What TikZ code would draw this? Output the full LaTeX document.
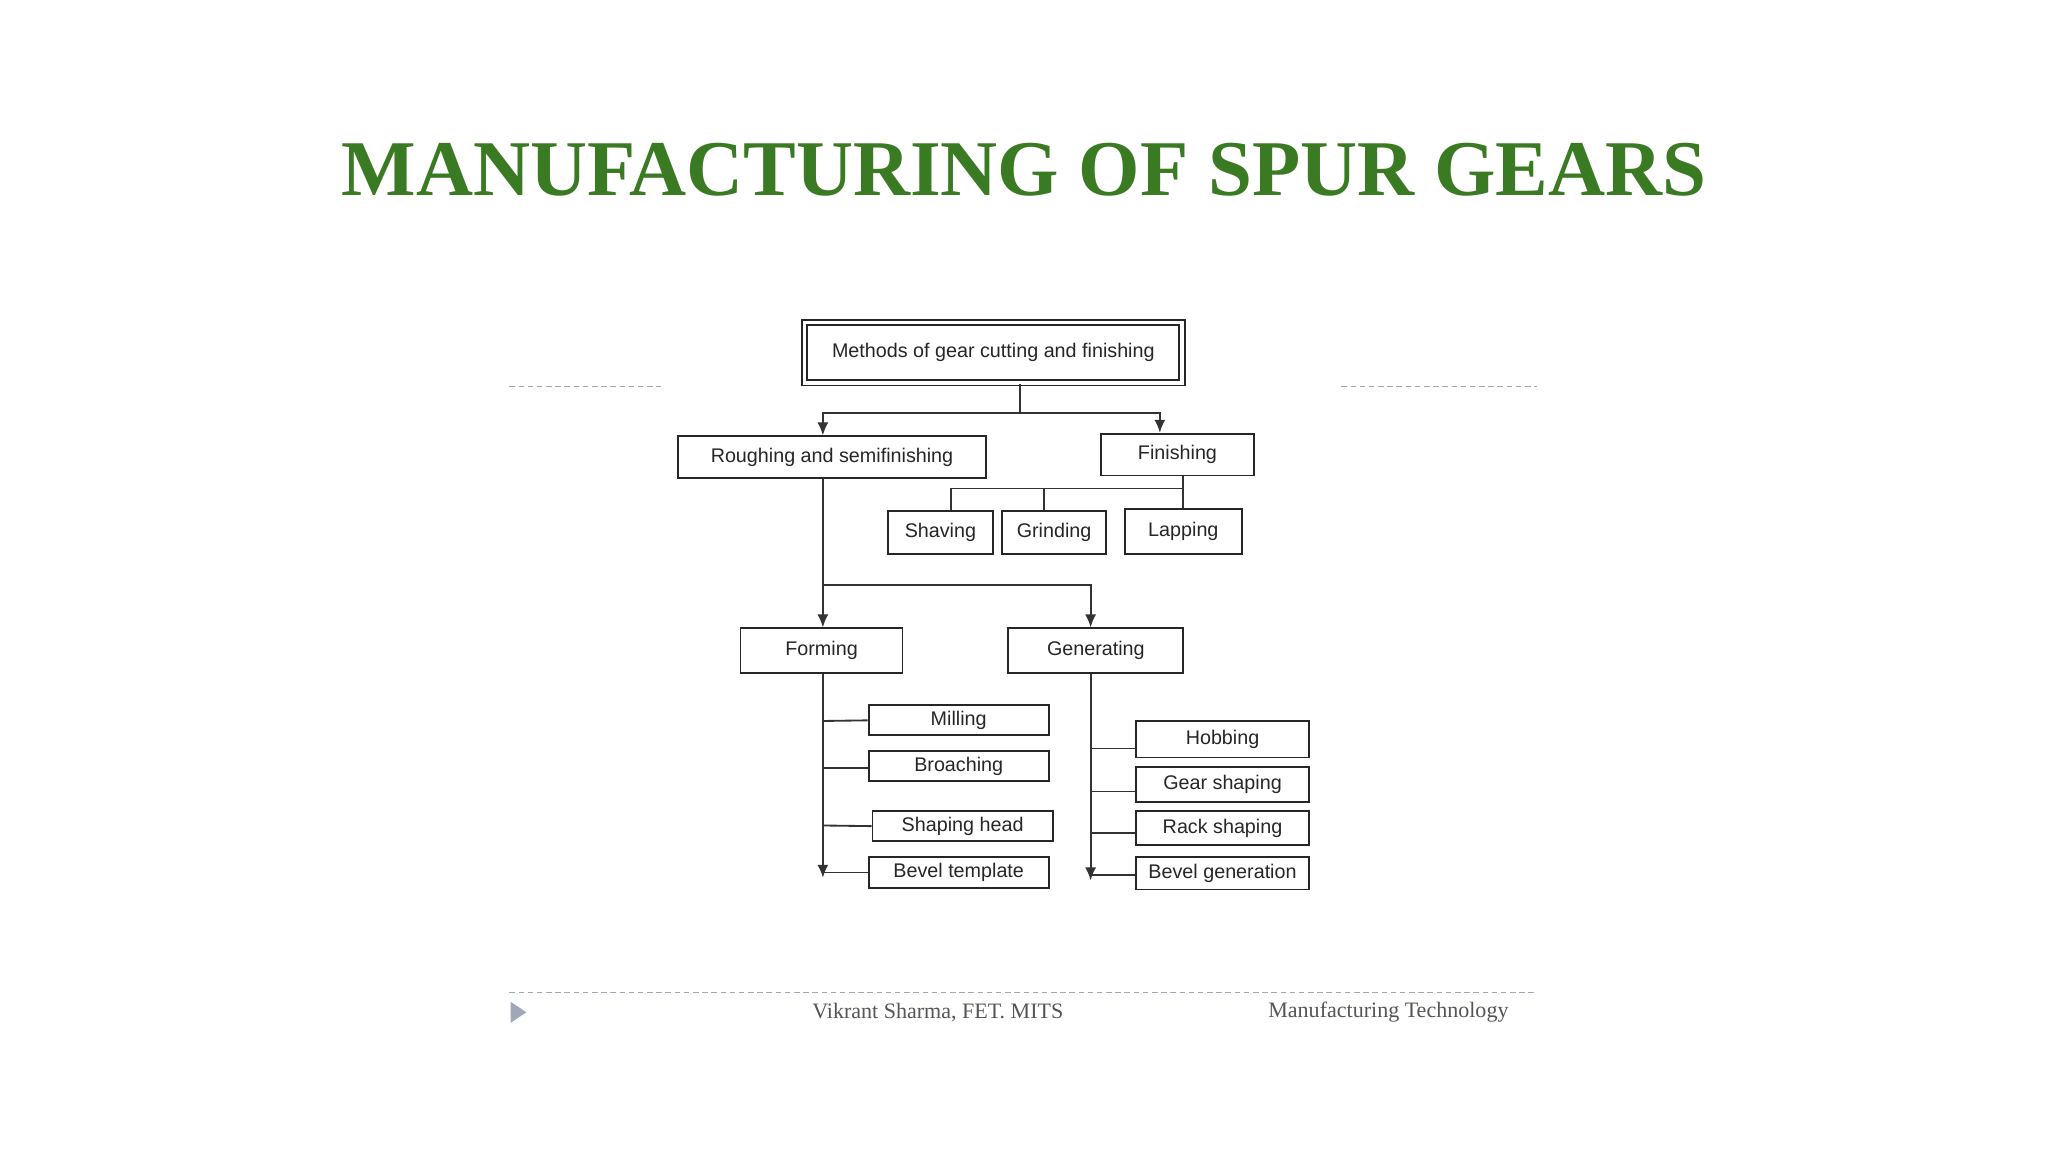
\documentclass[tikz,border=0pt]{standalone}
\usepackage{fontspec}
\setmainfont{Liberation Serif}
\setsansfont{Liberation Sans}
\usetikzlibrary{arrows.meta}
\definecolor{titlegreen}{HTML}{3A7A22}
\definecolor{dashgray}{HTML}{A0A8B8}
\definecolor{foot}{HTML}{555555}
\begin{document}
\begin{tikzpicture}[x=0.05cm,y=-0.05cm,
  bx/.style={draw=black!85,line width=2pt,inner sep=0pt,font=\sffamily\fontsize{21.5}{24}\selectfont,text=black!85},
  ln/.style={draw=black!80,line width=2pt},
  arr/.style={ln,-{Latex[length=14pt,width=12pt]}},
  dsh/.style={draw=dashgray,dash pattern=on 6pt off 4pt,line width=1.6pt}]
\useasboundingbox (0,0) rectangle (1568,882);
\fill[white] (0,0) rectangle (1568,882);
\node[font=\bfseries\fontsize{86}{90}\selectfont,text=titlegreen] (title) at (784,130) {MANUFACTURING OF SPUR GEARS};
\draw[dsh] (390,296) -- (506,296);
\draw[dsh] (1027,296) -- (1177,296);
\draw[dsh] (390,760) -- (1177,760);
\fill[dashgray] (391,767) -- (403,775) -- (391,783) -- cycle;
\node[font=\fontsize{24}{27}\selectfont,text=foot] (f1) at (718,775) {Vikrant Sharma, FET. MITS};
\node[font=\fontsize{24}{27}\selectfont,text=foot] (f2) at (1063,775) {Manufacturing Technology};
% boxes
\node[bx,double,double distance=4pt,minimum width=289*0.05cm,minimum height=46*0.05cm] (root) at (760.5,270) {Methods of gear cutting and finishing};
\node[bx,minimum width=236*0.05cm,minimum height=32*0.05cm] (rough) at (637,350) {Roughing and semifinishing};
\node[bx,minimum width=117*0.05cm,minimum height=32*0.05cm] (fin) at (901.5,348) {Finishing};
\node[bx,minimum width=80*0.05cm,minimum height=33*0.05cm] (shav) at (720,407.5) {Shaving};
\node[bx,minimum width=80*0.05cm,minimum height=33*0.05cm] (grind) at (807,407.5) {Grinding};
\node[bx,minimum width=90*0.05cm,minimum height=34*0.05cm] (lap) at (906,407) {Lapping};
\node[bx,minimum width=124*0.05cm,minimum height=34*0.05cm] (form) at (629,498) {Forming};
\node[bx,minimum width=134*0.05cm,minimum height=34*0.05cm] (gen) at (839,498) {Generating};
\node[bx,minimum width=138*0.05cm,minimum height=23*0.05cm] (mill) at (734,551.5) {Milling};
\node[bx,minimum width=138*0.05cm,minimum height=23*0.05cm] (broach) at (734,586.5) {Broaching};
\node[bx,minimum width=138*0.05cm,minimum height=23*0.05cm] (shead) at (737,632.5) {Shaping head};
\node[bx,minimum width=138*0.05cm,minimum height=24*0.05cm] (btemp) at (734,668) {Bevel template};
\node[bx,minimum width=132*0.05cm,minimum height=28*0.05cm] (hob) at (936,566) {Hobbing};
\node[bx,minimum width=132*0.05cm,minimum height=27*0.05cm] (gs) at (936,600.5) {Gear shaping};
\node[bx,minimum width=132*0.05cm,minimum height=26*0.05cm] (rs) at (936,634) {Rack shaping};
\node[bx,minimum width=132*0.05cm,minimum height=25*0.05cm] (bg) at (936,668.5) {Bevel generation};
% coordinates
\coordinate (r1) at (781,316);
\coordinate (rl) at (630,316);
\coordinate (rr) at (888,316);
\coordinate (f1c) at (906,374);
\coordinate (fl) at (728,374);
\coordinate (fm) at (799,374);
\coordinate (rb) at (630,448);
\coordinate (rg) at (835,448);
\coordinate (fe) at (630,672);
\coordinate (ge) at (835,674);
% connectors
\draw[ln] (root.south -| r1) -- (r1);
\draw[arr] (r1) -- (rl) -- (rough.north -| rl);
\draw[arr] (r1) -- (rr) -- (fin.north -| rr);
\draw[ln] (fin.south -| f1c) -- (f1c) -- (lap.north -| f1c);
\draw[ln] (f1c) -- (fl) -- (shav.north -| fl);
\draw[ln] (fm) -- (grind.north -| fm);
\draw[arr] (rough.south -| rb) -- (form.north -| rb);
\draw[arr] (rb) -- (rg) -- (gen.north -| rg);
\draw[arr] (form.south -| fe) -- (fe);
\draw[ln] (630,552) -- (mill.west);
\draw[ln] (630,588) -- (broach.west |- 630,588);
\draw[ln] (630,632) -- (shead.west);
\draw[ln] (630,668) -- (btemp.west);
\draw[arr] (gen.south -| ge) -- (ge);
\draw[ln] (835,573) -- (hob.west |- 835,573);
\draw[ln] (835,606) -- (gs.west |- 835,606);
\draw[ln] (835,638) -- (rs.west |- 835,638);
\draw[ln] (835,670) -- (bg.west |- 835,670);
\end{tikzpicture}
\end{document}
